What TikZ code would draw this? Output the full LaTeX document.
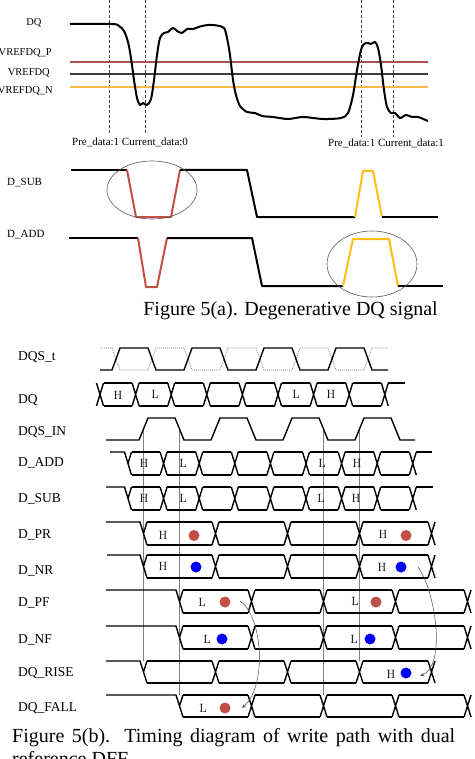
\documentclass[tikz,border=0pt]{standalone}
\usepackage{fontspec}
\newfontfamily\tnr{Liberation Serif}
\usetikzlibrary{arrows.meta}
\definecolor{refp}{RGB}{172,82,82}
\definecolor{refm}{RGB}{60,60,60}
\definecolor{refn}{RGB}{252,186,70}
\definecolor{pulred}{RGB}{196,78,68}
\definecolor{pulyel}{RGB}{255,190,20}
\definecolor{dotred}{RGB}{192,80,70}
\definecolor{dotblue}{RGB}{0,0,250}
\tikzset{
  wave/.style={line width=1.4pt, line join=miter},
  twave/.style={line width=2pt, line join=round},
  refl/.style={line width=1.1pt},
  dashv/.style={dash pattern=on 3pt off 2pt, line width=0.6pt, black!75},
  clkdot/.style={dash pattern=on 1pt off 1pt, line width=0.7pt, gray},
  vguide/.style={line width=0.5pt, gray},
  ring/.style={line width=0.6pt, black!65},
  toplbl/.style={font=\tnr\fontsize{10.5}{12}\selectfont, inner sep=0pt},
  midlbl/.style={font=\tnr\fontsize{11}{13}\selectfont, inner sep=0pt},
  rowlbl/.style={font=\tnr\fontsize{13.5}{15}\selectfont, inner sep=0pt, anchor=west},
  hl/.style={font=\fontsize{12}{14}\selectfont, inner sep=0pt},
  capt/.style={font=\tnr\fontsize{20}{23}\selectfont, inner sep=0pt},
  bigdot/.style={circle, inner sep=0pt, minimum size=11pt},
  flow/.style={line width=0.5pt, black!70, -{Stealth[length=4pt,width=3pt]}}
}
\newcommand\bx[3]{\draw[wave] ({#1-3.5},#2) -- ({#1+3.5},#3) ({#1-3.5},#3) -- ({#1+3.5},#2);}
\newcommand\bcell[4]{\draw[wave] ({#1+3.5},#3) -- ({#2-3.5},#3) ({#1+3.5},#4) -- ({#2-3.5},#4);}
\newcommand\brow[3]{\foreach \wB [remember=\wB as \wA (initially 0)] in {#3} {\ifdim\wA pt>0pt \bx{\wB}{#1}{#2}\bcell{\wA}{\wB}{#1}{#2}\fi}}
\newcommand\bin[4]{\draw[wave] (#1,#3) -- ({#2-3.5},#3) -- ({#2+3.5},#4) (#2,{(#3+#4)/2}) -- ({#2+3.5},#3);}
\newcommand\bout[4]{\draw[wave] ({#1+3.5},#3) -- (#2,#3);}
\begin{document}
\begin{tikzpicture}[x=1pt,y=-1pt]
\useasboundingbox (0,0) rectangle (474,759);
\fill[white] (0,0) rectangle (474,759);

% ---------------- Figure 5(a) ----------------
\draw[dashv] (109,0) -- (109,133);
\draw[dashv] (145,0) -- (145,133);
\draw[dashv] (361,0) -- (361,137);
\draw[dashv] (393,0) -- (393,137);

\draw[refl, refp] (70,62) -- (428,62);
\draw[refl, refm] (70,74) -- (428,74);
\draw[refl, refn] (70,87) -- (428,87);

\draw[twave] plot[smooth, tension=0.5] coordinates {
 (70,24) (112,24) (119,26) (124,31) (128,42) (131,58) (134,80) (137,98) (140,105)
 (143,103) (147,105) (151,99) (154,80) (157,55) (160,38) (164,33) (168,32) (173,28)
 (177,31) (182,33) (187,29) (193,29) (200,26.5) (208,25) (217,25.5) (224,28) (227,38)
 (230,55) (233,80) (236,95) (240,106) (247,112) (255,113) (262,116) (273,117) (288,119)
 (303,117) (323,119) (341,118) (348,113) (353,95) (357,70) (361,50) (364,44) (368,43)
 (371,44) (375,42) (378,48) (381,65) (384,90) (387,107) (391,113) (395,113) (400,118)
 (406,115) (412,117) (418,117) (428,121)};

\node[toplbl] (tDQ) at (34,23) {DQ};
\node[toplbl, anchor=east] (tVP) at (52,53) {VREFDQ\_P};
\node[toplbl, anchor=east] (tVM) at (50,73) {VREFDQ};
\node[toplbl, anchor=east] (tVN) at (53,91) {VREFDQ\_N};
\node[midlbl, anchor=west] (tPC0) at (72,142) {Pre\_data:1 Current\_data:0};
\node[midlbl, anchor=west] (tPC1) at (328,143) {Pre\_data:1 Current\_data:1};

\node[midlbl, anchor=west] (tSUB) at (7,183) {D\_SUB};
\node[midlbl, anchor=west] (tADD) at (7,235) {D\_ADD};

% D_SUB
\draw[twave] (71,170) -- (127,170);
\draw[twave, pulred] (127,170) -- (136,217) -- (171,217) -- (180,170);
\draw[twave] (180,170) -- (247,170) -- (257,217) -- (355,217);
\draw[twave, pulyel] (355,217) -- (363,171) -- (373,171) -- (382,217);
\draw[twave] (382,217) -- (438,217);
% D_ADD
\draw[twave] (69,238) -- (138,238);
\draw[twave, pulred] (138,238) -- (146,287) -- (157,287) -- (167,238);
\draw[twave] (167,238) -- (252,238) -- (262,286) -- (343,286);
\draw[twave, pulyel] (343,286) -- (353,239) -- (389,239) -- (398,286);
\draw[twave] (398,286) -- (443,286);

\draw[ring] (152,190) ellipse [x radius=45, y radius=29];
\draw[ring] (372,264) ellipse [x radius=45, y radius=33];

\node[capt] (capA) at (290.5,311) {Figure 5(a). Degenerative DQ signal};

% ---------------- Figure 5(b) ----------------
\node[rowlbl] (lDQSt) at (18,357) {DQS\_t};
\node[rowlbl] (lDQ) at (18,400) {DQ};
\node[rowlbl] (lDQSIN) at (18,432) {DQS\_IN};
\node[rowlbl] (lADD) at (18,463) {D\_ADD};
\node[rowlbl] (lSUB) at (18,499) {D\_SUB};
\node[rowlbl] (lPR) at (18,535) {D\_PR};
\node[rowlbl] (lNR) at (18,571) {D\_NR};
\node[rowlbl] (lPF) at (18,603) {D\_PF};
\node[rowlbl] (lNF) at (18,640) {D\_NF};
\node[rowlbl] (lRISE) at (18,673) {DQ\_RISE};
\node[rowlbl] (lFALL) at (18,708) {DQ\_FALL};

% guide lines
\draw[vguide] (143.5,429) -- (143.5,661);
\draw[vguide] (179.5,429) -- (179.5,695);
\draw[vguide] (323.5,429) -- (323.5,695);
\draw[vguide] (359.5,429) -- (359.5,661);

% DQS_t
\draw[clkdot] (100,348) -- (112,348) -- (120,370) -- (148,370) -- (156,348) -- (184,348)
  -- (192,370) -- (220,370) -- (228,348) -- (256,348) -- (264,370) -- (292,370)
  -- (300,348) -- (328,348) -- (336,370) -- (364,370) -- (372,348) -- (388,348);
\draw[wave] (100,370) -- (112,370) -- (120,348) -- (148,348) -- (156,370) -- (184,370)
  -- (192,348) -- (220,348) -- (228,370) -- (256,370) -- (264,348) -- (292,348)
  -- (300,370) -- (328,370) -- (336,348) -- (364,348) -- (372,370) -- (388,370);

% DQ
\bx{100}{383}{406}
\brow{383}{406}{100,135.6,171.2,206.8,242.4,278,313.6,349.2,384.8}
\bout{384.8}{405}{383}{406}
\node[hl] (dq1) at (118,395) {H};
\node[hl] (dq2) at (155,394) {L};
\node[hl] (dq3) at (296,394) {L};
\node[hl] (dq4) at (331,394) {H};

% DQS_IN
\draw[wave] (106,440) -- (139,440) -- (148,418) -- (175,418) -- (184,440) -- (211,440)
  -- (220,418) -- (247,418) -- (256,440) -- (283,440) -- (292,418) -- (319,418)
  -- (328,440) -- (355,440) -- (364,418) -- (391,418) -- (400,440) -- (415,440);

% D_ADD
\bin{110}{128}{452}{475}
\brow{452}{475}{128,163.6,199.2,234.8,270.4,306,341.6,377.2,412.8}
\bout{412.8}{432}{452}{475}
\node[hl] (ad1) at (144,463) {H};
\node[hl] (ad2) at (183,463) {L};
\node[hl] (ad3) at (322,463) {L};
\node[hl] (ad4) at (357,463) {H};

% D_SUB
\bin{106}{128}{487}{510}
\brow{487}{510}{128,163.6,199.2,234.8,270.4,306,341.6,377.2,412.8}
\bout{412.8}{433}{487}{510}
\node[hl] (sb1) at (144,498) {H};
\node[hl] (sb2) at (183,498) {L};
\node[hl] (sb3) at (321,498) {L};
\node[hl] (sb4) at (356,498) {H};

% D_PR
\bin{106}{143.5}{522}{545}
\brow{522}{545}{143.5,215.5,287.5,359.5,431.5}
\node[hl] (pr1) at (163,535) {H};
\node[bigdot, fill=dotred] (prd1) at (194,535.5) {};
\node[hl] (pr2) at (383,534) {H};
\node[bigdot, fill=dotred] (prd2) at (406,535.5) {};

% D_NR
\bin{107}{143.5}{555}{578}
\brow{555}{578}{143.5,215.5,287.5,359.5,431.5}
\node[hl] (nr1) at (163,566) {H};
\node[bigdot, fill=dotblue] (nrd1) at (196,567) {};
\node[hl] (nr2) at (382,567) {H};
\node[bigdot, fill=dotblue] (nrd2) at (401,567) {};

% D_PF
\bin{106}{179.5}{590}{613}
\brow{590}{613}{179.5,251.5,323.5,395.5,467.5}
\node[hl] (pf1) at (202,602) {L};
\node[bigdot, fill=dotred] (pfd1) at (225,602) {};
\node[hl] (pf2) at (355,601) {L};
\node[bigdot, fill=dotred] (pfd2) at (376,602) {};

% D_NF
\bin{106}{179.5}{626}{649}
\brow{626}{649}{179.5,251.5,323.5,395.5,467.5}
\node[hl] (nf1) at (207,639) {L};
\node[bigdot, fill=dotblue] (nfd1) at (222,639) {};
\node[hl] (nf2) at (354,639) {L};
\node[bigdot, fill=dotblue] (nfd2) at (370,639) {};

% DQ_RISE
\bin{106}{143.5}{661}{683}
\brow{661}{683}{143.5,215.5,287.5,359.5,431.5}
\node[hl] (rs1) at (391,674) {H};
\node[bigdot, fill=dotblue] (rsd1) at (406,673) {};

% DQ_FALL
\bin{106}{179.5}{695}{717}
\brow{695}{717}{179.5,251.5,323.5,395.5,467.5}
\node[hl] (fl1) at (203,708) {L};
\node[bigdot, fill=dotred] (fld1) at (225,708) {};

% arrows
\coordinate (a1s) at (240,601);
\coordinate (a1e) at (242,708);
\coordinate (a2s) at (418,567);
\coordinate (a2e) at (420,676);
\draw[flow] (a1s) .. controls (262,615) and (268,685) .. (a1e);
\draw[flow] (a2s) .. controls (435,590) and (447,665) .. (a2e);

\node[capt, anchor=base west] (capB1) at (12,742) {\makebox[443pt][s]{Figure 5(b). Timing diagram of write path with dual}};
\node[capt, anchor=base west] (capB2) at (12,765) {reference DFF.};
\end{tikzpicture}
\end{document}
